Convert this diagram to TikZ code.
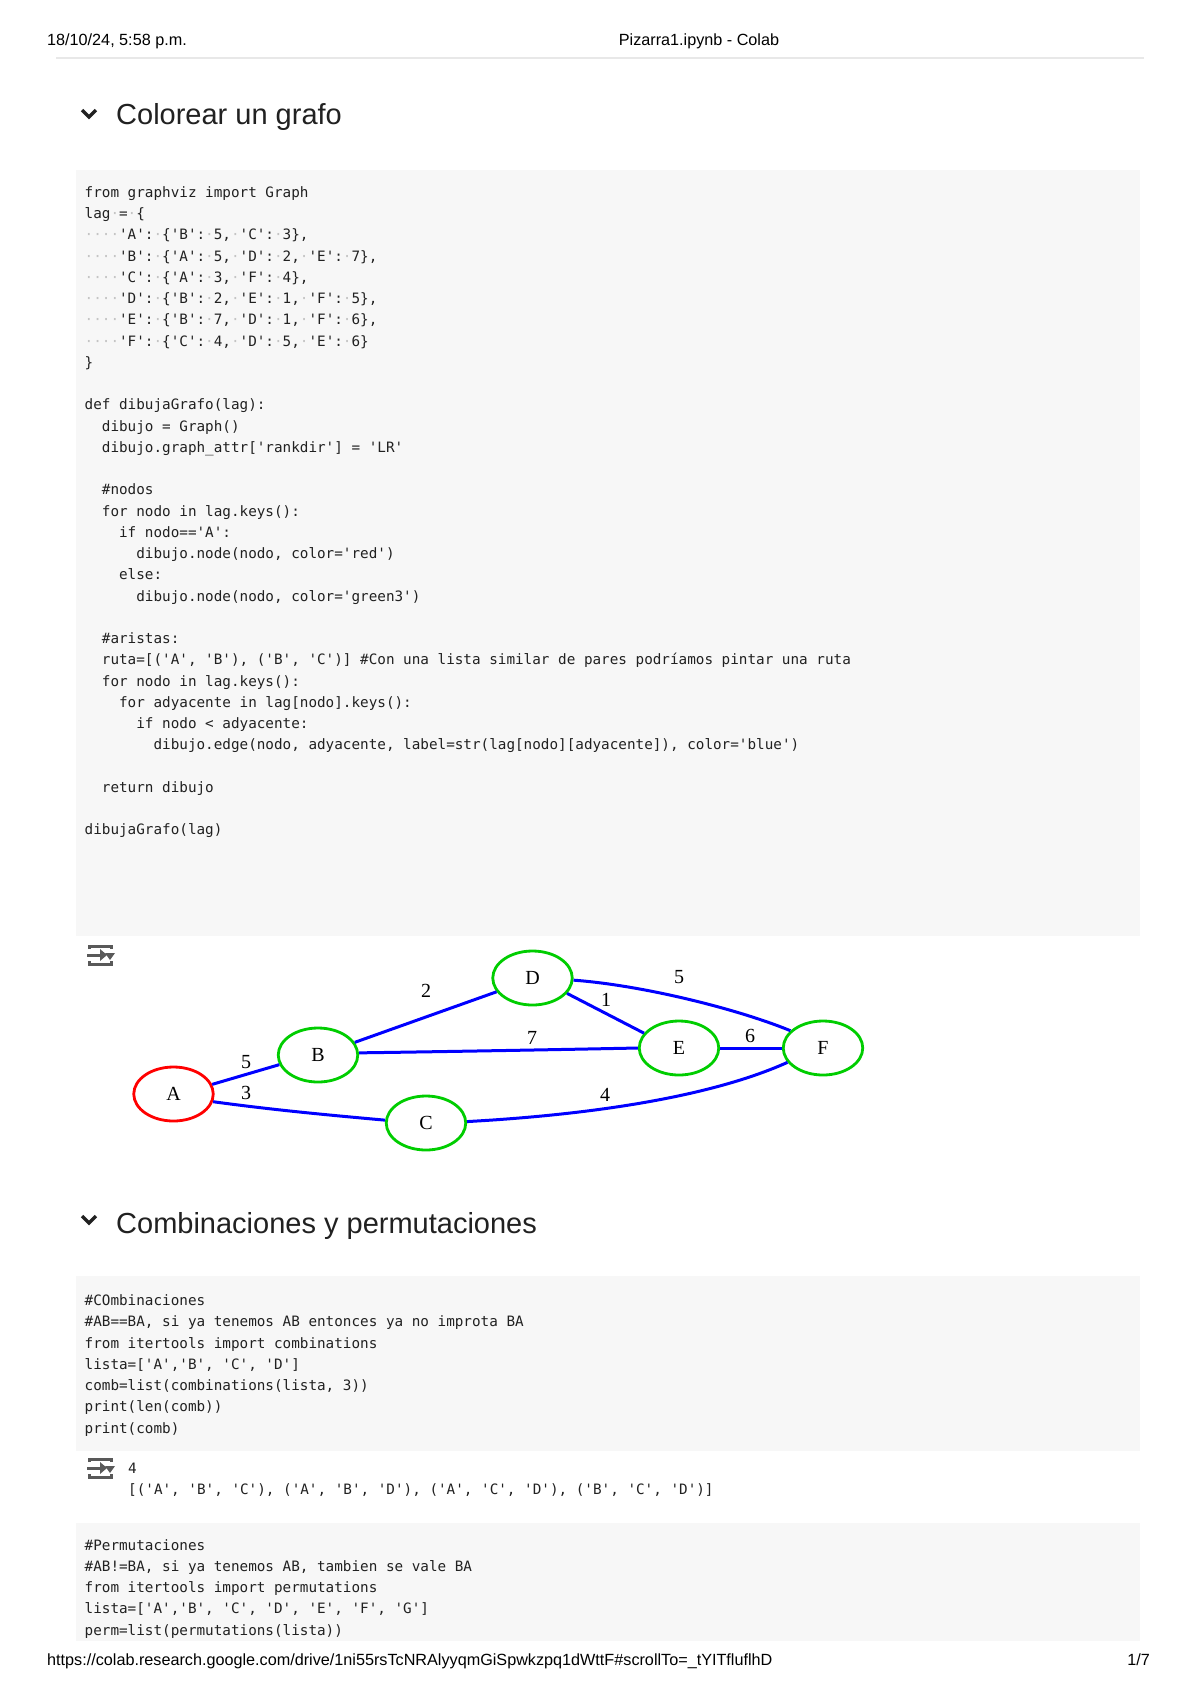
\documentclass[tikz,border=0pt]{standalone}
\usepackage{fontspec}
\setmainfont{Liberation Sans}
\setmonofont{DejaVu Sans Mono}
\newfontfamily\graphfont{Liberation Serif}
\usetikzlibrary{shapes.geometric}
\definecolor{cellgray}{HTML}{F7F7F7}
\definecolor{dotgray}{HTML}{C4C4C4}
\definecolor{greenthree}{HTML}{00CD00}
\definecolor{ink}{HTML}{212121}
\newcommand\dt{\textcolor{dotgray}{·}}
\tikzset{
  x=1pt,y=-1pt,
  cell/.style={fill=cellgray,draw=none},
  code/.style={anchor=base west,align=left,inner sep=0pt,text=ink,font=\fontsize{14.3}{21.25}\selectfont\ttfamily},
  outp/.style={code},
  hdr/.style={anchor=base west,inner sep=0pt,text=black,font=\fontsize{16.2}{18}\selectfont},
  heading/.style={anchor=base west,inner sep=0pt,text=ink,font=\fontsize{29}{32}\selectfont},
  gnode/.style={ellipse,draw,line width=2.8pt,minimum width=79.5pt,minimum height=54pt,inner sep=0pt,font=\graphfont\fontsize{20}{22}\selectfont},
  gedge/.style={draw=blue,line width=3pt},
  glabel/.style={inner sep=0pt,font=\graphfont\fontsize{20}{22}\selectfont},
  chev/.style={line width=3.4pt,draw=ink,line join=miter},
}
\newcommand\outicon[2]{%
  \begin{scope}[shift={(#1,#2)},line width=3pt,draw=black!65]
    \draw (-11,-6) -- (-11,-9) -- (11,-9) -- (11,-6);
    \draw (-11,6) -- (-11,9) -- (11,9) -- (11,6);
    \draw (-13,0) -- (3,0);
    \fill[black!65] (0,-6) -- (7,0) -- (0,6) -- cycle;
    \fill[black!65] (5,-2) -- (15,-2) -- (10,5) -- cycle;
  \end{scope}}
\begin{document}
\begin{tikzpicture}
\useasboundingbox (0,0) rectangle (1200,1698);
\fill[white] (0,0) rectangle (1200,1698);
% header
\node[hdr] (date) at (47,45) {18/10/24, 5:58 p.m.};
\node[hdr,anchor=base] (title) at (699,45) {Pizarra1.ipynb - Colab};
\fill[black!9] (56,57) rectangle (1144,59);
% section 1
\draw[chev] (82,110) -- (89,117) -- (96,110);
\node[heading] (h1) at (116,124) {Colorear un grafo};
\fill[cell] (76,170) rectangle (1140,936);
\node[code] (code1) at (84.5,834.8) {from graphviz import Graph\\
lag\dt=\dt\{\\
\dt\dt\dt\dt'A':\dt\{'B':\dt5,\dt'C':\dt3\},\\
\dt\dt\dt\dt'B':\dt\{'A':\dt5,\dt'D':\dt2,\dt'E':\dt7\},\\
\dt\dt\dt\dt'C':\dt\{'A':\dt3,\dt'F':\dt4\},\\
\dt\dt\dt\dt'D':\dt\{'B':\dt2,\dt'E':\dt1,\dt'F':\dt5\},\\
\dt\dt\dt\dt'E':\dt\{'B':\dt7,\dt'D':\dt1,\dt'F':\dt6\},\\
\dt\dt\dt\dt'F':\dt\{'C':\dt4,\dt'D':\dt5,\dt'E':\dt6\}\\
\}\\
~\\
def dibujaGrafo(lag):\\
~~dibujo = Graph()\\
~~dibujo.graph\_attr['rankdir'] = 'LR'\\
~\\
~~\#nodos\\
~~for nodo in lag.keys():\\
~~~~if nodo=='A':\\
~~~~~~dibujo.node(nodo, color='red')\\
~~~~else:\\
~~~~~~dibujo.node(nodo, color='green3')\\
~\\
~~\#aristas:\\
~~ruta=[('A', 'B'), ('B', 'C')] \#Con una lista similar de pares podríamos pintar una ruta\\
~~for nodo in lag.keys():\\
~~~~for adyacente in lag[nodo].keys():\\
~~~~~~if nodo < adyacente:\\
~~~~~~~~dibujo.edge(nodo, adyacente, label=str(lag[nodo][adyacente]), color='blue')\\
~\\
~~return dibujo\\
~\\
dibujaGrafo(lag)};
\outicon{100}{955}
% graph
\node[gnode,draw=red] (A) at (173.5,1094) {A};
\node[gnode,draw=greenthree] (B) at (318,1055) {B};
\node[gnode,draw=greenthree] (C) at (426,1123) {C};
\node[gnode,draw=greenthree] (D) at (532.5,978) {D};
\node[gnode,draw=greenthree] (E) at (679,1048) {E};
\node[gnode,draw=greenthree] (F) at (823,1048) {F};
\draw[gedge] (A.14) -- (B.194);
\draw[gedge] (A.-11) .. controls (274,1110) and (328,1115) .. (C.176);
\draw[gedge] (B.19) -- (D.201);
\draw[gedge] (B.3) .. controls (420,1052) and (540,1050) .. (E.180);
\draw[gedge] (C.2) .. controls (550,1117) and (695,1104) .. (F.202);
\draw[gedge] (D.-3) .. controls (640,985) and (735,1008) .. (F.152);
\draw[gedge] (D.-24) -- (E.157);
\draw[gedge] (E) -- (F);
\node[glabel] (l1) at (246,1062) {5};
\node[glabel] (l2) at (246,1093) {3};
\node[glabel] (l3) at (426,991) {2};
\node[glabel] (l4) at (532,1038) {7};
\node[glabel] (l5) at (606,1000) {1};
\node[glabel] (l6) at (679,977) {5};
\node[glabel] (l7) at (750,1036) {6};
\node[glabel] (l8) at (605,1095) {4};
% section 2
\draw[chev] (82,1216) -- (89,1223) -- (96,1216);
\node[heading] (h2) at (116,1233) {Combinaciones y permutaciones};
\fill[cell] (76,1276) rectangle (1140,1451);
\node[code] (code2) at (84.5,1433) {\#COmbinaciones\\
\#AB==BA, si ya tenemos AB entonces ya no improta BA\\
from itertools import combinations\\
lista=['A','B', 'C', 'D']\\
comb=list(combinations(lista, 3))\\
print(len(comb))\\
print(comb)};
\outicon{100}{1468}
\node[outp] (out2) at (128,1494.5) {4\\
{[}('A', 'B', 'C'), ('A', 'B', 'D'), ('A', 'C', 'D'), ('B', 'C', 'D')]};
\fill[cell] (76,1523) rectangle (1140,1641);
\node[code] (code3) at (84.5,1635) {\#Permutaciones\\
\#AB!=BA, si ya tenemos AB, tambien se vale BA\\
from itertools import permutations\\
lista=['A','B', 'C', 'D', 'E', 'F', 'G']\\
perm=list(permutations(lista))};
% footer
\node[hdr] (url) at (47,1665) {https://colab.research.google.com/drive/1ni55rsTcNRAlyyqmGiSpwkzpq1dWttF\#scrollTo=\_tYITfluflhD};
\node[hdr,anchor=base east] (page) at (1150,1665) {1/7};
\end{tikzpicture}
\end{document}
